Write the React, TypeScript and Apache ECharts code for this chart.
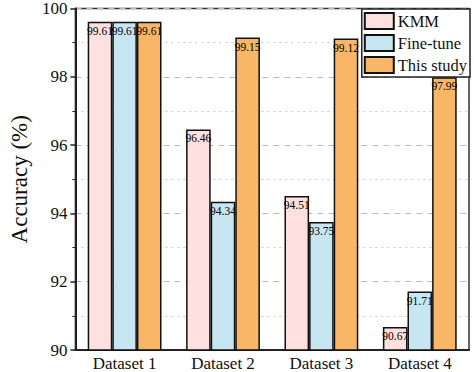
import React, { useEffect, useRef } from "react";
import * as echarts from "echarts";

const categories = ["Dataset 1", "Dataset 2", "Dataset 3", "Dataset 4"];
const kmm = [99.61, 96.46, 94.51, 90.67];
const fineTune = [99.61, 94.34, 93.75, 91.71];
const thisStudy = [99.61, 99.15, 99.12, 97.99];
const seriesNames = ["KMM", "Fine-tune", "This study"];
const colors = ["#FDE0DF", "#C8E6F1", "#F9B666"];

const FONT = "Liberation Serif, Times New Roman, serif";

export default function App() {
  const ref = useRef<HTMLDivElement>(null);
  useEffect(() => {
    if (!ref.current) return;
    const chart = echarts.init(ref.current, null, { renderer: "svg" });
    const datas = [kmm, fineTune, thisStudy];
    chart.setOption({
      animation: false,
      backgroundColor: "#fff",
      textStyle: { fontFamily: FONT },
      grid: {
        left: 52,
        right: 5,
        top: 7,
        bottom: 22,
        show: true,
        borderColor: "#333",
        borderWidth: 1.5,
      },
      legend: {
        orient: "vertical",
        right: 4,
        top: 9,
        itemWidth: 29,
        itemHeight: 16,
        itemGap: 4,
        padding: [3, 3, 3, 2],
        borderColor: "#222",
        borderWidth: 1.5,
        backgroundColor: "#fff",
        icon: "rect",
        textStyle: { fontFamily: FONT, fontSize: 16.5, lineHeight: 16, color: "#111", padding: [0, 0, 0, -1] },
        data: seriesNames,
      },
      xAxis: {
        type: "category",
        data: categories,
        axisLine: { lineStyle: { color: "#222", width: 2 } },
        axisTick: { show: true, inside: true, alignWithLabel: true, length: 5, lineStyle: { color: "#222", width: 1.5 } },
        axisLabel: { fontFamily: FONT, fontSize: 17, color: "#111", margin: 5 },
        splitLine: { show: false },
      },
      yAxis: {
        type: "value",
        min: 90,
        max: 100,
        interval: 2,
        name: "Accuracy (%)",
        nameLocation: "middle",
        nameGap: 39,
        nameTextStyle: { fontFamily: FONT, fontSize: 23, color: "#111" },
        axisLine: { show: true, lineStyle: { color: "#222", width: 2 } },
        axisTick: { show: true, inside: false, length: 5, lineStyle: { color: "#222", width: 1.5 } },
        minorTick: { show: true, splitNumber: 2, length: 3, lineStyle: { color: "#222" } },
        axisLabel: { fontFamily: FONT, fontSize: 17, color: "#111", margin: 8 },
        splitLine: { show: true, lineStyle: { color: "#bbb", type: [6, 5], width: 1 } },
        minorSplitLine: { show: true, lineStyle: { color: "#ccc", type: [2, 4], width: 1 } },
      },
      series: seriesNames.map((name, i) => ({
        name,
        type: "bar",
        data: datas[i],
        barGap: "0%",
        barCategoryGap: "25%",
        itemStyle: { color: colors[i], borderColor: "#111", borderWidth: 1.5 },
        label: {
          show: true,
          position: "insideTop",
          distance: 3,
          fontFamily: FONT,
          fontSize: 11.5,
          color: "#000",
          formatter: (p: any) => p.value.toFixed(2),
        },
      })),
    });
    return () => chart.dispose();
  }, []);
  return <div ref={ref} style={{ width: 474, height: 372, position: "absolute", left: 0, top: 0 }} />;
}
